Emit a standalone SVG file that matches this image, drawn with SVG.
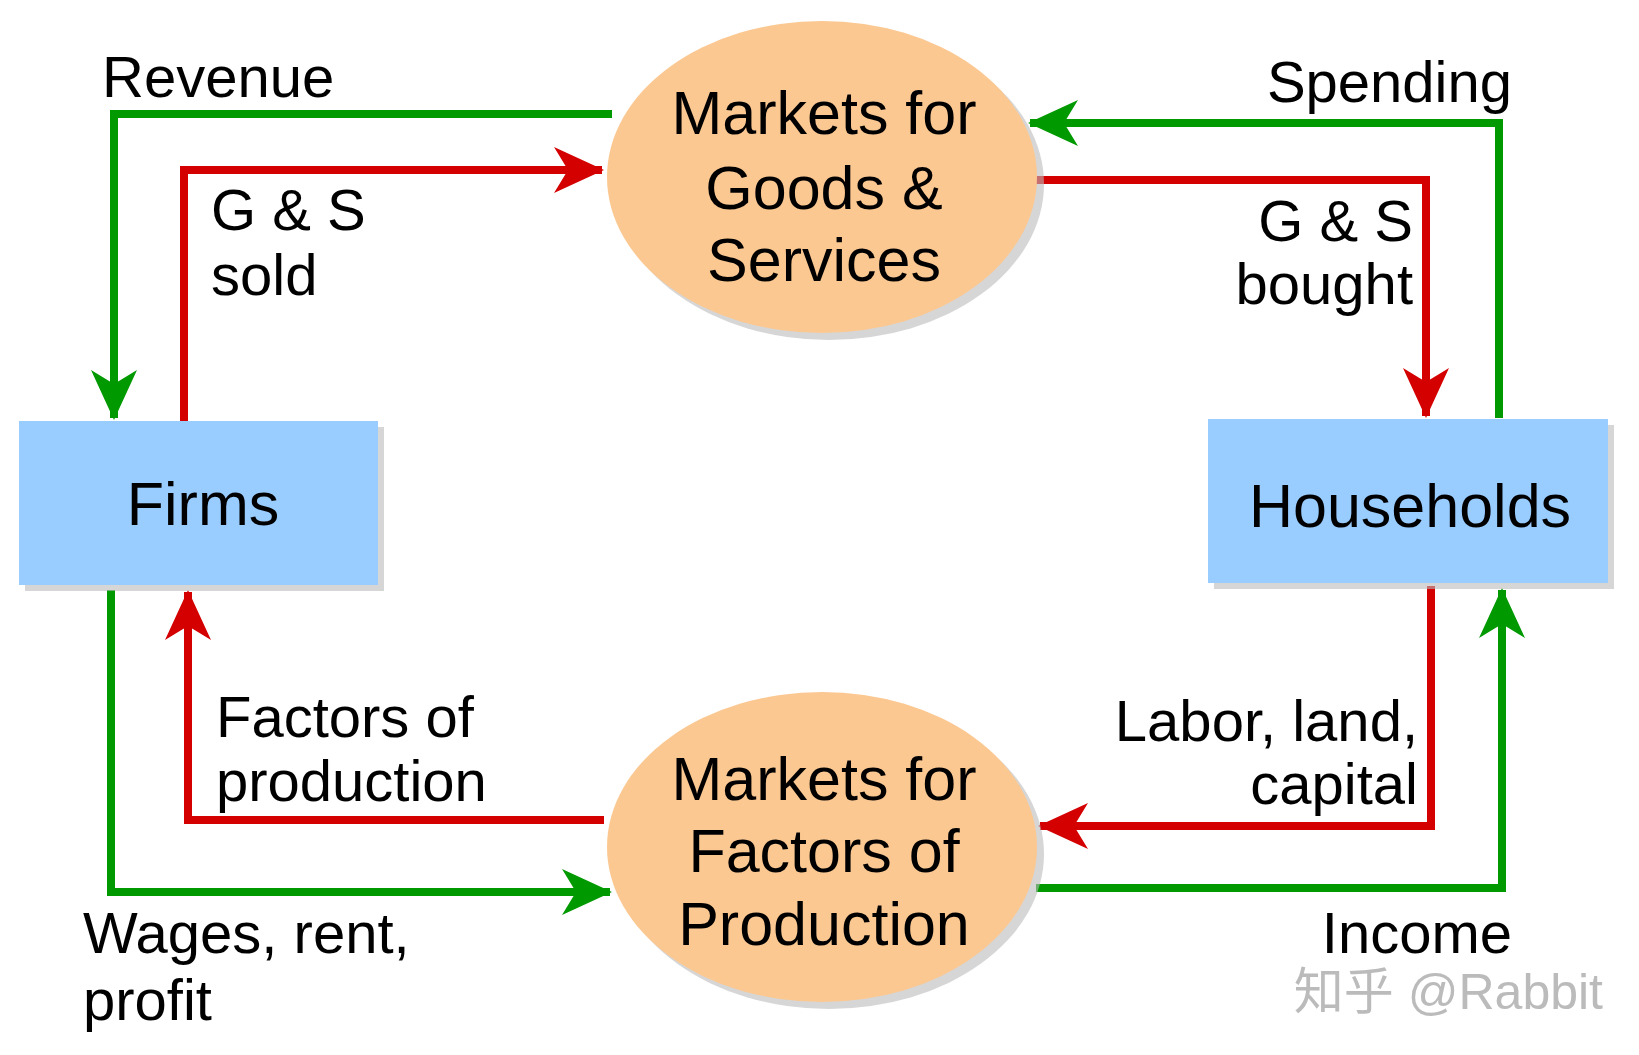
<svg xmlns="http://www.w3.org/2000/svg" width="1639" height="1055" viewBox="0 0 1639 1055">
<style>
text{font-family:"Liberation Sans",Arial,sans-serif;fill:#000}
.lbl{font-size:58px}
.node{font-size:61px}
.g{fill:none;stroke:#009900;stroke-width:8}
.r{fill:none;stroke:#d40000;stroke-width:8}
.ell{fill:#fbc892}
.box{fill:#99ccff}
.sh{fill:#bbb;opacity:0.6}
</style>
<defs>
<marker id="ag" viewBox="0 0 50 46" refX="48" refY="23" markerWidth="50" markerHeight="46" markerUnits="userSpaceOnUse" orient="auto"><path d="M0,0 L50,23 L0,46 L14,23 z" fill="#009900"/></marker>
<marker id="ar" viewBox="0 0 50 46" refX="48" refY="23" markerWidth="50" markerHeight="46" markerUnits="userSpaceOnUse" orient="auto"><path d="M0,0 L50,23 L0,46 L14,23 z" fill="#d40000"/></marker>
</defs>
<rect width="1639" height="1055" fill="#fff"/>
<g id="connectors">
<path class="g" d="M612,114 H114 V418" marker-end="url(#ag)"/>
<path class="r" d="M184,421 V170 H602" marker-end="url(#ar)"/>
<path class="g" d="M1499,418 V123 H1030" marker-end="url(#ag)"/>
<path class="r" d="M1036,180 H1426 V416" marker-end="url(#ar)"/>
<path class="r" d="M604,820 H188 V592" marker-end="url(#ar)"/>
<path class="g" d="M111,590 V892 H610" marker-end="url(#ag)"/>
<path class="r" d="M1431,586 V826 H1040" marker-end="url(#ar)"/>
<path class="g" d="M1036,888 H1502 V590" marker-end="url(#ag)"/>
</g>
<g id="goods">
<ellipse class="sh" cx="829" cy="184" rx="215" ry="156"/>
<ellipse class="ell" cx="822" cy="177" rx="215" ry="156"/>
<text class="node" x="824" y="134" text-anchor="middle">Markets for</text>
<text class="node" x="824" y="209" text-anchor="middle">Goods &amp;</text>
<text class="node" x="824" y="281" text-anchor="middle">Services</text>
</g>
<g id="factors">
<ellipse class="sh" cx="829" cy="854" rx="215" ry="155"/>
<ellipse class="ell" cx="822" cy="847" rx="215" ry="155"/>
<text class="node" x="824" y="800" text-anchor="middle">Markets for</text>
<text class="node" x="824" y="872" text-anchor="middle">Factors of</text>
<text class="node" x="824" y="945" text-anchor="middle">Production</text>
</g>
<g id="firms">
<rect class="sh" x="25" y="427" width="359" height="164"/>
<rect class="box" x="19" y="421" width="359" height="164"/>
<text class="node" x="203" y="525" text-anchor="middle">Firms</text>
</g>
<g id="households">
<rect class="sh" x="1214" y="425" width="400" height="164"/>
<rect class="box" x="1208" y="419" width="400" height="164"/>
<text class="node" x="1410" y="527" text-anchor="middle">Households</text>
</g>
<g id="labels">
<text class="lbl" x="102" y="97">Revenue</text>
<text class="lbl" x="211" y="230">G &amp; S</text>
<text class="lbl" x="211" y="295">sold</text>
<text class="lbl" x="1512" y="102" text-anchor="end">Spending</text>
<text class="lbl" x="1413" y="241" text-anchor="end">G &amp; S</text>
<text class="lbl" x="1413" y="304" text-anchor="end">bought</text>
<text class="lbl" x="216" y="737">Factors of</text>
<text class="lbl" x="216" y="801">production</text>
<text class="lbl" x="83" y="953">Wages, rent,</text>
<text class="lbl" x="83" y="1020">profit</text>
<text class="lbl" x="1418" y="741" text-anchor="end">Labor, land,</text>
<text class="lbl" x="1418" y="804" text-anchor="end">capital</text>
<text class="lbl" x="1512" y="953" text-anchor="end">Income</text>
<text x="1603" y="1009" text-anchor="end" style="font-family:'Liberation Sans','Noto Sans CJK SC',sans-serif;font-size:50px;fill:#bbb">知乎 @Rabbit</text>
</g>
</svg>
